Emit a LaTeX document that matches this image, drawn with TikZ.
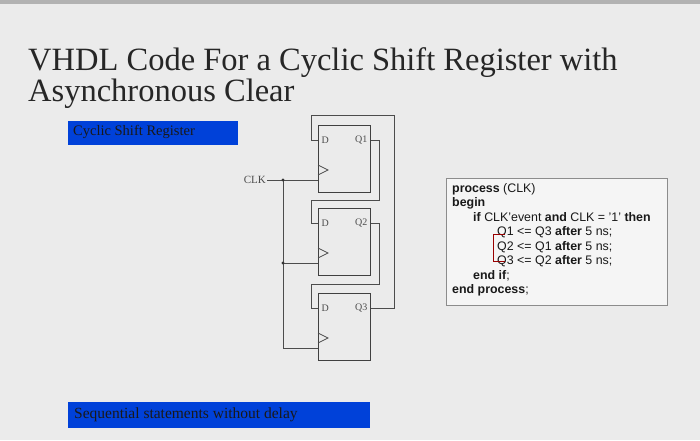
\documentclass[tikz,border=0pt]{standalone}
\usepackage{fontspec}
\setmainfont{Liberation Serif}
\setsansfont{Liberation Sans}
\begin{document}
\begin{tikzpicture}[x=1pt,y=-1pt,
  ff/.style={draw=black!75,line width=0.9pt,minimum width=52pt,minimum height=67pt,inner sep=0pt},
  wire/.style={draw=black!70,line width=0.8pt},
  pin/.style={font=\fontsize{10}{10}\selectfont,text=black!70},
  banner/.style={fill=blue!70!cyan!85!black,anchor=north west,inner sep=0pt}]
\useasboundingbox (0,0) rectangle (700,440);
\fill[black!8] (0,0) rectangle (700,440);
\fill[black!30] (0,0) rectangle (700,4);
\node[anchor=base west,inner sep=0pt,font=\fontsize{32.5}{32.5}\selectfont,text=black!85] (t1) at (28,70) {VHDL Code For a Cyclic Shift Register with};
\node[anchor=base west,inner sep=0pt,font=\fontsize{32.5}{32.5}\selectfont,text=black!85] (t2) at (28,101) {Asynchronous Clear};
\node[banner,minimum width=170pt,minimum height=24pt] (b1) at (68,121) {};
\node[anchor=west,font=\fontsize{14.5}{14.5}\selectfont,text=black!90,inner sep=0pt] (b1t) at (73,132) {Cyclic Shift Register};
\node[banner,minimum width=302pt,minimum height=26pt] (b2) at (68,402) {};
\node[anchor=west,font=\fontsize{15.5}{15.5}\selectfont,text=black!90,inner sep=0pt] (b2t) at (74,415) {Sequential statements without delay};
% flip flops
\node[ff,anchor=north west] (f1) at (318,125) {};
\node[ff,anchor=north west] (f2) at (318,208) {};
\node[ff,anchor=north west] (f3) at (318,293) {};
\foreach \f/\q in {f1/Q1,f2/Q2,f3/Q3}{
  \node[pin,anchor=west] (\f d) at ([yshift=-15pt]\f.north west) {D};
  \node[pin,anchor=east] (\f q) at ([yshift=-15pt]\f.north east) {\q};
  \coordinate (\f D) at ([yshift=-15pt]\f.north west);
  \coordinate (\f Q) at ([yshift=-15pt]\f.north east);
  \coordinate (\f C) at ([yshift=-55pt]\f.north west);
  \draw[wire] ([yshift=5pt]\f C) -- ++(10,-5) -- ++(-10,-5);
}
\draw[wire] (f3Q) -- ++(23,0) |- (311,115) |- (f1D);
\draw[wire] (f1Q) -- ++(8,0) |- (311,200) |- (f2D);
\draw[wire] (f2Q) -- ++(8,0) |- (311,284) |- (f3D);
% clock
\node[anchor=east,font=\fontsize{11}{11}\selectfont,text=black!70,inner sep=1pt] (clk) at (267,180) {CLK};
\draw[wire] (clk.east) -- (f1C);
\coordinate (j1) at (f1C -| 283,0);
\coordinate (j2) at (f2C -| 283,0);
\draw[wire] (j1) |- (f3C);
\draw[wire] (j2) -- (f2C);
\fill[black!80] (j1) circle (1.6pt) (j2) circle (1.6pt);
% code box
\node[draw=black!45,line width=0.9pt,fill=black!4,anchor=north west,minimum width=221pt,minimum height=127pt] (code) at (446,178) {};
\node[anchor=north west,inner sep=0pt,font=\sffamily\fontsize{12.4}{14.5}\selectfont,text=black!90,align=left] (ct) at (452,183) {%
\textbf{process} (CLK)\\
\textbf{begin}\\
\hspace*{21pt}\textbf{if} CLK'event \textbf{and} CLK = '1' \textbf{then}\\
\hspace*{45pt}Q1 <= Q3 \textbf{after} 5 ns;\\
\hspace*{45pt}Q2 <= Q1 \textbf{after} 5 ns;\\
\hspace*{45pt}Q3 <= Q2 \textbf{after} 5 ns;\\
\hspace*{21pt}\textbf{end if};\\
\textbf{end process};};
\draw[red!60!black,line width=0.5pt] (505,234) -- (493,234) -- (493,261) -- (505,261);
\end{tikzpicture}
\end{document}
